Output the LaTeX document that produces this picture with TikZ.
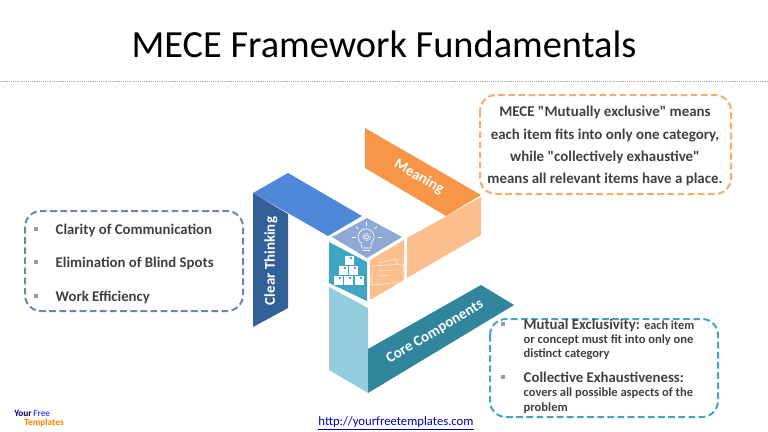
\documentclass[tikz,border=0pt]{standalone}
\usepackage{fontspec}
\usetikzlibrary{calc}
\setmainfont[Ligatures=TeXOff]{Carlito}
\definecolor{meaningtop}{HTML}{F79646}
\definecolor{meaningside}{HTML}{FBBE8C}
\definecolor{thinktop}{HTML}{5088D8}
\definecolor{thinkside}{HTML}{34609A}
\definecolor{bulbface}{HTML}{8FA9D6}
\definecolor{boxface}{HTML}{3FA5C2}
\definecolor{coreside}{HTML}{93CDDD}
\definecolor{coretop}{HTML}{31859C}
\definecolor{bodytext}{HTML}{404040}
\tikzset{
  bandlabel/.style={text=white,font=\fontsize{11.2}{14}\bfseries\selectfont},
  notebox/.style={draw,line width=1.5pt,dashed,dash pattern=on 5pt off 2.6pt,rounded corners=12pt},
  bullet/.style={fill=gray!80,minimum size=3.4pt,inner sep=0pt},
  notetext/.style={anchor=west,text=bodytext,font=\fontsize{11.1}{12}\bfseries\selectfont},
  smalltext/.style={anchor=west,text=bodytext,align=left,font=\fontsize{9.4}{10.9}\bfseries\selectfont},
  icon/.style={draw=white,line width=.5pt},
  faint/.style={draw=white!55!meaningside,line width=.6pt}
}
\begin{document}
\begin{tikzpicture}[x=.75pt,y=-.75pt]
  \useasboundingbox (0,0) rectangle (768,432);
  % title
  \node (title) at (384,44) {\fontsize{28.8}{32}\selectfont MECE Framework Fundamentals};
  \draw[gray!70,densely dotted] (0,81) -- (768,81);
  % meaning band
  \fill[meaningtop] (365,128) -- (481,195) -- (446,216) -- (365,168) -- cycle;
  \fill[meaningside] (481,197) -- (481,235) -- (407,278) -- (407,238) -- cycle;
  \node[bandlabel,rotate=-30] (meaning) at (419,177) {Meaning};
  % clear thinking band
  \fill[thinktop] (253,193) -- (288,173) -- (362,216) -- (328,236) -- cycle;
  \fill[thinkside] (253,193) -- (288,214) -- (288,308) -- (253,327) -- cycle;
  \node[bandlabel,rotate=90] (thinking) at (271,261) {Clear Thinking};
  % core components band
  \fill[coreside] (329,287) -- (368,308) -- (368,393) -- (329,370) -- cycle;
  \fill[coretop] (368,349) -- (481,285) -- (514,305) -- (368,393) -- cycle;
  \node[bandlabel,rotate=31] (core) at (435,332) {Core Components};
  % centre cube
  \fill[bulbface] (367,218) -- (402,237) -- (367,258) -- (332,237) -- cycle;
  \fill[boxface] (329,242) -- (367,262) -- (367,301) -- (329,283) -- cycle;
  \fill[meaningside] (404,240) -- (404,280) -- (370,300) -- (370,260) -- cycle;
  % bulb icon
  \draw[icon] (361,243) arc (130:410:8) -- (371,248) -- (362,248) -- cycle;
  \draw[icon] (363,250.5) -- (370,250.5);
  \draw[icon] (366.5,237) circle (2);
  \draw[icon,densely dotted,line width=.8pt] (366.5,237) circle (3.8);
  \foreach \ang in {180,225,270,315,360} {
    \draw[icon] ($(366.5,237)+(\ang:11)$) -- ($(366.5,237)+(\ang:15)$);
  }
  % stacked boxes
  \foreach \bx/\by in {345/256,339/266,349/266,334/276,344/276,355/276} {
    \fill[white] (\bx,\by) rectangle ++(8.5,8.5);
    \fill[boxface] (\bx+5,\by+1) rectangle ++(1.5,1.5);
  }
  % ticket icon
  \draw[faint] (372,266) -- (403,264) -- (403,270) arc (270:90:-2) -- (403,282) -- (372,285) -- (372,278) arc (90:-90:-2) -- cycle;
  \draw[faint] (378,263) -- (396,259) -- (397,264);
  \draw[faint] (378,271) -- (392,270) (378,276) -- (390,275);
  % note boxes
  \draw[notebox,draw=thinkside!75!white] (25,211) rectangle (243,311);
  \draw[notebox,draw=meaningtop!80!white] (480,95) rectangle (731,194);
  \draw[notebox,draw=boxface] (490,319) rectangle (718,417);
  % left note
  \foreach \ty/\txt in {229/Clarity of Communication,262/Elimination of Blind Spots,296/Work Efficiency} {
    \node[bullet] at (36,\ty) {};
    \node[notetext] at (51,\ty+1) {\txt};
  }
  % right note
  \node[text=bodytext,align=center,font=\fontsize{11.2}{16.6}\bfseries\selectfont] (meaningnote) at (605,146)
    {MECE "Mutually exclusive" means\\each item fits into only one category,\\while "collectively exhaustive"\\means all relevant items have a place.};
  % bottom note
  \node[bullet] (b1) at (503,324) {};
  \node[bullet] (b2) at (503,377) {};
  \node[notetext] (mutual) at (519,325) {Mutual Exclusivity: \fontsize{9.2}{10}\selectfont each item};
  \node[smalltext] (mutualmore) at (519,347) {or concept must fit into only one\\distinct category};
  \node[notetext] (collect) at (519,377) {Collective Exhaustiveness:};
  \node[smalltext] (collectmore) at (519,400.5) {covers all possible aspects of the\\problem};
  % footer
  \node[text=blue!70!black,font=\fontsize{9.5}{11}\selectfont] (link) at (396,423) {\underline{http://yourfreetemplates.com}};
  \node[anchor=west,inner sep=0pt,font=\fontsize{7}{7}\bfseries\selectfont] (logoa) at (14,414) {\textcolor{blue!40!black}{Your}\,\textcolor{blue!70!white}{Free}};
  \node[anchor=west,inner sep=0pt,text=orange,font=\fontsize{7}{7}\bfseries\selectfont] (logob) at (24,423) {Templates};
\end{tikzpicture}
\end{document}
